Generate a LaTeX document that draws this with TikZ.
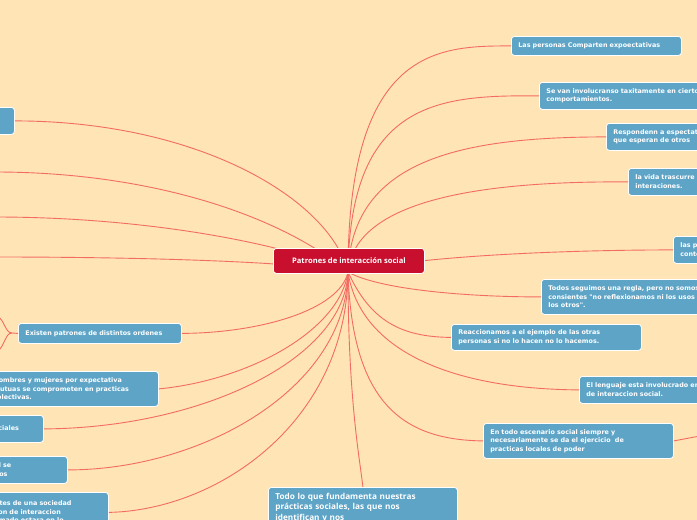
\documentclass[tikz,border=0pt]{standalone}
\usepackage{fontspec}
\setmainfont{Open Sans}
\newfontfamily\leaffont{DejaVu Sans}
\definecolor{bg}{HTML}{FFE4B5}
\definecolor{bx}{HTML}{5DA4C7}
\definecolor{ctr}{HTML}{C8102E}
\definecolor{ln}{HTML}{F26C64}
\begin{document}
\begin{tikzpicture}[x=1pt,y=-1pt,
  leaf/.style={draw=white,line width=0.8pt,fill=bx,rounded corners=3pt,text=white,font=\leaffont\fontsize{6.4}{8.6}\selectfont\bfseries,align=left,anchor=north west,inner xsep=7pt,inner ysep=0pt,text width=#1-14pt},
  conn/.style={draw=ln,line width=0.9pt}]
\useasboundingbox (0,0) rectangle (697,520);
\fill[bg] (0,0) rectangle (697,520);
\coordinate (o) at (348,272);
% right leaves
\node[leaf=170pt,minimum height=19pt] (b1) at (511,36) {Las personas Comparten expoectativas};
\node[leaf=240pt,minimum height=27pt] (b2) at (539,82) {Se van involucranso taxitamente en ciertos\\comportamientos.};
\node[leaf=200pt,minimum height=27pt] (b3) at (606,123) {Respondenn a espectativas\\que esperan de otros};
\node[leaf=200pt,minimum height=27pt] (b4) at (628,168) {la vida trascurre en\\interaciones.};
\node[leaf=200pt,minimum height=27pt] (b5) at (673,236) {las practicas\\contextos};
\node[leaf=230pt,minimum height=35pt] (b6) at (541,279) {Todos seguimos una regla, pero no somos\\consientes "no reflexionamos ni los usos de\\los otros".};
\node[leaf=190pt,minimum height=26pt] (b7) at (451,324) {Reaccionamos a el ejemplo de las otras\\personas si no lo hacen no lo hacemos.};
\node[leaf=220pt,minimum height=27pt] (b8) at (579,376) {El lenguaje esta involucrado en patrones\\de interaccion social.};
\node[leaf=190pt,minimum height=35pt] (b9) at (483,423) {En todo escenario social siempre y\\necesariamente se da el ejercicio\ \ de\\practicas locales de poder};
% left leaves
\node[leaf=100pt,minimum height=27pt] (l1) at (-86,107) {};
\node[leaf=163pt,minimum height=20pt] (l2) at (18,323) {Existen patrones de distintos ordenes};
\node[leaf=172pt,minimum height=35pt] (l3) at (-14,371) {Hombres y mujeres por expectativa\\mutuas se comprometen en practicas\\colectivas.};
\node[leaf=109pt,minimum height=27pt] (l4) at (-66,415) {Los patrones sociales\\};
\node[leaf=129pt,minimum height=27pt] (l5) at (-62,456) {El patron social se\\dan en contextos\\};
\node[leaf=161pt,minimum height=40pt] (l6) at (-53,492) {Los integrantes de una sociedad\\bajo un patron de interaccion\\que es legitimado estara en lo};
\node[leaf=189pt,font=\fontsize{8.2}{10.5}\selectfont\bfseries,minimum height=40pt,inner ysep=3pt] (bt) at (268,487) {Todo lo que fundamenta nuestras\\prácticas sociales, las que nos\\identifican y nos};
\coordinate (e1) at (-5,172);
\coordinate (e2) at (-5,217);
\coordinate (e3) at (-3,316);
\coordinate (e4) at (-3,352);
\coordinate (e5) at (700,436);
\coordinate (e6) at (-3,257);
% connectors
\draw[conn] (o) .. controls (348,46) and (440,46) .. (b1.west);
\draw[conn] (o) .. controls (350,100) and (440,95) .. (b2.west);
\draw[conn] (o) .. controls (352,160) and (460,137) .. (b3.west);
\draw[conn] (o) .. controls (355,200) and (480,181) .. (b4.west);
\draw[conn] (o) .. controls (420,256) and (560,250) .. (b5.west);
\draw[conn] (o) .. controls (380,290) and (470,297) .. (b6.west);
\draw[conn] (o) .. controls (370,320) and (400,337) .. (b7.west);
\draw[conn] (o) .. controls (360,350) and (450,389) .. (b8.west);
\draw[conn] (o) .. controls (352,400) and (400,440) .. (b9.west);
\draw[conn] (b9.east) -- (e5);
\draw[conn] (o) .. controls (330,200) and (200,121) .. (l1.east);
\draw[conn] (o) .. controls (280,215) and (150,172) .. (e1);
\draw[conn] (o) .. controls (290,245) and (150,217) .. (e2);
\draw[conn] (o) .. controls (300,262) and (150,257) .. (e6);
\draw[conn] (o) .. controls (340,310) and (260,333) .. (l2.east);
\draw[conn] (l2.west) -- (12,333) .. controls (5,333) and (5,320) .. (e3);
\draw[conn] (12,333) .. controls (5,333) and (5,346) .. (e4);
\draw[conn] (o) .. controls (340,330) and (250,380) .. (l3.east);
\draw[conn] (o) .. controls (345,360) and (200,428) .. (l4.east);
\draw[conn] (o) .. controls (346,390) and (200,470) .. (l5.east);
\draw[conn] (o) .. controls (347,420) and (220,510) .. (l6.east);
\draw[conn] (o) .. controls (348,400) and (360,460) .. (bt.north);
\node[draw=white,line width=0.8pt,fill=ctr,rounded corners=3pt,text=white,font=\fontsize{7.6}{9}\selectfont\bfseries,minimum width=151pt,minimum height=25pt,anchor=north west] (c) at (273,248) {Patrones de interacción social};
\end{tikzpicture}
\end{document}
